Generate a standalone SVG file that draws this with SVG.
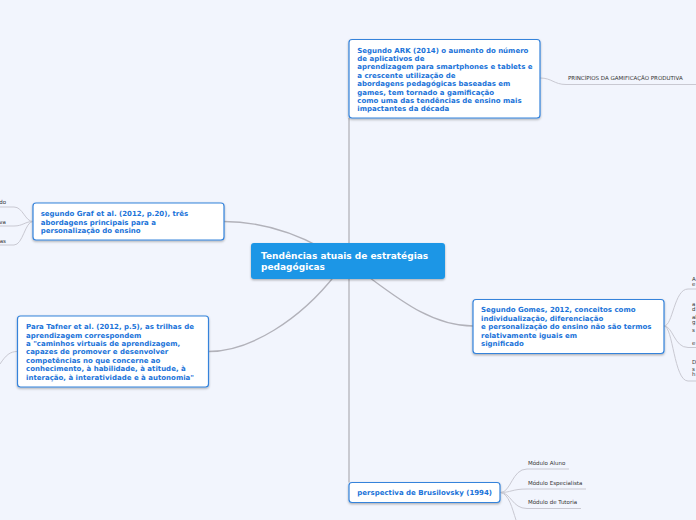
<svg xmlns="http://www.w3.org/2000/svg" width="696" height="520" viewBox="0 0 696 520">
<defs>
<filter id="sh" x="-10%" y="-10%" width="120%" height="140%">
<feDropShadow dx="0" dy="1.2" stdDeviation="0.8" flood-color="#000" flood-opacity="0.3"/>
</filter>
<style>
.node{fill:#fff;stroke:#3583db;stroke-width:1.2;filter:url(#sh)}
.main{fill:#1b96e6;filter:url(#sh)}
.t{font-family:"DejaVu Sans",Verdana,sans-serif;font-weight:bold;font-size:7px;fill:#1a73d9}
.mt{font-family:"DejaVu Sans",Verdana,sans-serif;font-weight:bold;font-size:9px;fill:#fff}
.s{font-family:"DejaVu Sans",Verdana,sans-serif;font-size:5.5px;fill:#333}
.c{fill:none;stroke:#b2b2ba;stroke-width:1.3}
.cc{fill:none;stroke:#c9c9d2;stroke-width:1}
</style>
</defs>
<rect width="696" height="520" fill="#f2f5fd"/>
<g id="connectors">
<path class="c" d="M349,118 V482.5"/>
<path class="c" d="M224,221.5 C250,221.5 285,228 322,248"/>
<path class="c" d="M208.5,351.5 C250,351.5 300,320 336,274"/>
<path class="c" d="M362,272 C395,296 430,326 473,326"/>
<path class="cc" d="M540,78 C552,78 554,84.5 566,84.5 H696"/>
<path class="cc" d="M33,221.5 C25,221.5 23,207 14,207 H0"/>
<path class="cc" d="M33,221.5 C25,221.5 23,226 14,226 H0"/>
<path class="cc" d="M33,221.5 C25,221.5 23,245 14,245 H0"/>
<path class="cc" d="M17.5,351.5 C10,351.5 6,355 0,364"/>
<path class="cc" d="M664,326 C673,326 674,289 688,289 H696"/>
<path class="cc" d="M664,326 C673,326 674,347.5 688,347.5 H696"/>
<path class="cc" d="M664,326 C673,326 674,381 688,381 H696"/>
<path class="cc" d="M500.5,492.5 C511,492.5 512,469 527,469 H569"/>
<path class="cc" d="M500.5,492.5 C511,492.5 512,489 527,489 H586"/>
<path class="cc" d="M500.5,492.5 C511,492.5 512,508.5 527,508.5 H581"/>
<path class="cc" d="M500.5,492.5 C509,494 512,508 516,520"/>
</g>
<g id="center">
<rect class="main" x="251" y="243" width="194" height="36" rx="3"/>
<text class="mt" x="261" y="259">Tendências atuais de estratégias</text>
<text class="mt" x="261" y="269.5">pedagógicas</text>
</g>
<g id="ark">
<rect class="node" x="349" y="39.5" width="191" height="78.5" rx="3"/>
<text class="t" x="357.3" y="52.7">Segundo ARK (2014) o aumento do número</text>
<text class="t" x="357.3" y="61.1">de aplicativos de</text>
<text class="t" x="357.3" y="69.4">aprendizagem para smartphones e tablets e</text>
<text class="t" x="357.3" y="77.8">a crescente utilização de</text>
<text class="t" x="357.3" y="86.2">abordagens pedagógicas baseadas em</text>
<text class="t" x="357.3" y="94.5">games, tem tornado a gamificação</text>
<text class="t" x="357.3" y="102.9">como uma das tendências de ensino mais</text>
<text class="t" x="357.3" y="111.3">impactantes da década</text>
</g>
<g id="principios">
<text class="s" x="568" y="80">PRINCÍPIOS DA GAMIFICAÇÃO PRODUTIVA</text>
</g>
<g id="graf">
<rect class="node" x="33" y="203" width="191" height="37" rx="3"/>
<text class="t" x="40.7" y="216.3">segundo Graf et al. (2012, p.20), três</text>
<text class="t" x="40.7" y="224.6">abordagens principais para a</text>
<text class="t" x="40.7" y="233">personalização do ensino</text>
</g>
<g id="graf-children">
<text class="s" x="6" y="204" text-anchor="end">do</text>
<text class="s" x="6" y="223.5" text-anchor="end">va</text>
<text class="s" x="6" y="242.5" text-anchor="end">as</text>
</g>
<g id="tafner">
<rect class="node" x="17.5" y="316" width="191" height="71" rx="3"/>
<text class="t" x="26" y="329">Para Tafner et al. (2012, p.5), as trilhas de</text>
<text class="t" x="26" y="337.5">aprendizagem correspondem</text>
<text class="t" x="26" y="345.9">a "caminhos virtuais de aprendizagem,</text>
<text class="t" x="26" y="354.4">capazes de promover e desenvolver</text>
<text class="t" x="26" y="362.8">competências no que concerne ao</text>
<text class="t" x="26" y="371.3">conhecimento, à habilidade, à atitude, à</text>
<text class="t" x="26" y="379.7">interação, à interatividade e à autonomia"</text>
</g>
<g id="gomes">
<rect class="node" x="473" y="299.5" width="191" height="54" rx="3"/>
<text class="t" x="481" y="312">Segundo Gomes, 2012, conceitos como</text>
<text class="t" x="481" y="320.5">individualização, diferenciação</text>
<text class="t" x="481" y="329">e personalização do ensino não são termos</text>
<text class="t" x="481" y="337.5">relativamente iguais em</text>
<text class="t" x="481" y="346">significado</text>
</g>
<g id="gomes-children">
<text class="s" x="692" y="280.5">A</text>
<text class="s" x="692" y="286">e</text>
<text class="s" x="692" y="305.5">a</text>
<text class="s" x="692" y="311">d</text>
<text class="s" x="692" y="318.5">al</text>
<text class="s" x="692" y="324">g</text>
<text class="s" x="692" y="331.5">s</text>
<text class="s" x="692" y="345">e</text>
<text class="s" x="692" y="364">D</text>
<text class="s" x="692" y="370.5">s</text>
<text class="s" x="692" y="376">h</text>
</g>
<g id="brusilovsky">
<rect class="node" x="349" y="482.5" width="151" height="20" rx="3"/>
<text class="t" x="357.3" y="495">perspectiva de Brusilovsky (1994)</text>
</g>
<g id="brusilovsky-children">
<text class="s" x="528" y="465">Módulo Aluno</text>
<text class="s" x="528" y="485">Módulo Especialista</text>
<text class="s" x="528" y="504.3">Módulo de Tutoria</text>
</g>
</svg>
